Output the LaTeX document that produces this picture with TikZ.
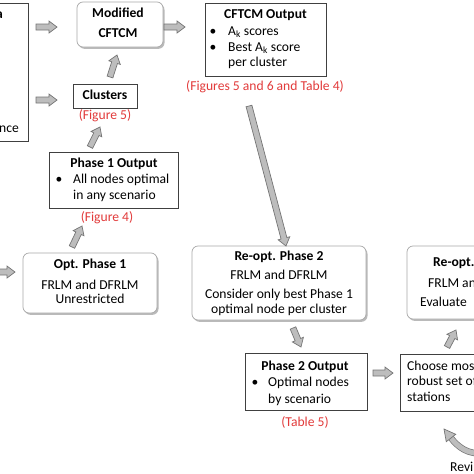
\documentclass[tikz,border=0pt]{standalone}
\usepackage{fontspec}
\setmainfont{Carlito}
\usetikzlibrary{calc,shadows}
\definecolor{redtxt}{HTML}{E23B3B}
\definecolor{arrfill}{HTML}{BDBDBD}
\definecolor{arrdraw}{HTML}{757575}
\definecolor{boxdraw}{HTML}{404040}
\definecolor{rboxdraw}{HTML}{A8A8A8}
\newcommand\blockarr[2]{%
  \coordinate (ba-h) at ($(#2)!8pt!(#1)$);
  \path[blockarrow] ($(#1)!3pt!90:(#2)$) -- ($(ba-h)!3pt!90:(#2)$) -- ($(ba-h)!6pt!90:(#2)$) -- (#2)
    -- ($(ba-h)!6pt!-90:(#2)$) -- ($(ba-h)!3pt!-90:(#2)$) -- ($(#1)!3pt!-90:(#2)$) -- cycle;}
\tikzset{
  blockarrow/.style={fill=arrfill, draw=arrdraw, line width=0.7pt, line join=miter},
  sbox/.style={draw=boxdraw, line width=0.9pt, fill=white, inner sep=0pt},
  rbox/.style={draw=rboxdraw, line width=0.7pt, fill=white, rounded corners=6pt, inner sep=0pt,
    drop shadow={shadow xshift=1.5pt, shadow yshift=-1.8pt, fill=black!45, opacity=0.6}},
  tl/.style={inner sep=0pt, text height=9.5pt, text depth=3pt, font=\fontsize{13.6}{16}\selectfont},
  tb/.style={tl, font=\fontsize{13.6}{16}\selectfont\bfseries},
  tr/.style={tl, text=redtxt},
}
\begin{document}
\begin{tikzpicture}[x=1pt,y=-1pt]
\useasboundingbox (0,0) rectangle (474,474);
\fill[white] (0,0) rectangle (474,474);
% boxes
\node[sbox, minimum width=50pt, minimum height=138pt, anchor=north east] (lb) at (29,3) {};
\node[rbox, minimum width=86pt, minimum height=45pt] (modc) at (120,24.5) {};
\node[sbox, minimum width=64pt, minimum height=24pt] (clus) at (105,96) {};
\node[sbox, minimum width=121pt, minimum height=73pt] (cout) at (265.5,39.5) {};
\node[sbox, minimum width=129pt, minimum height=56pt] (p1out) at (113.5,180) {};
\node[rbox, minimum width=134pt, minimum height=60pt] (opt1) at (90,283) {};
\node[rbox, minimum width=174pt, minimum height=74pt] (rp2) at (279,283) {};
\node[sbox, minimum width=122pt, minimum height=57pt] (p2out) at (306,381.5) {};
\node[sbox, minimum width=120pt, minimum height=57pt] (choose) at (460,382.5) {};
\node[rbox, minimum width=153pt, minimum height=73pt] (rp3) at (483.5,282.5) {};
% texts
\node[tb, anchor=east] (t-a) at (3,15) {a};
\node[tl, anchor=east] (t-nce) at (19,129) {nce};
\node[tb] (t-mod1) at (118,14) {Modified};
\node[tb] (t-mod2) at (118,34) {CFTCM};
\node[tb] (t-clus) at (105,96) {Clusters};
\node[tr] (t-f5) at (105,116) {(Figure 5)};
\node[tb] (t-co) at (265.5,15) {CFTCM Output};
\node[tl] (b-co1) at (213,32) {•};
\node[tl] (b-co2) at (213,48) {•};
\node[tl, anchor=west] (t-co1) at (228,32) {A\textsubscript{k} scores};
\node[tl, anchor=west] (t-co2) at (228,48) {Best A\textsubscript{k} score};
\node[tl, anchor=west] (t-co3) at (228,63) {per cluster};
\node[tr] (t-f56) at (265,87) {(Figures 5 and 6 and Table 4)};
\node[tb] (t-p1) at (114,164) {Phase 1 Output};
\node[tl] (b-p1) at (59,180) {•};
\node[tl, anchor=west] (t-p11) at (73,180) {All nodes optimal};
\node[tl, anchor=west] (t-p12) at (73,196) {in any scenario};
\node[tr] (t-f4) at (107,218) {(Figure 4)};
\node[tb] (t-o1) at (90,265) {Opt. Phase 1};
\node[tl] (t-o2) at (90,286) {FRLM and DFRLM};
\node[tl] (t-o3) at (90,300) {Unrestricted};
\node[tb] (t-r1) at (279,257) {Re-opt. Phase 2};
\node[tl] (t-r2) at (279,276) {FRLM and DFRLM};
\node[tl] (t-r3) at (279,295) {Consider only best Phase 1};
\node[tl] (t-r4) at (279,310) {optimal node per cluster};
\node[tb] (t-p2) at (305,367) {Phase 2 Output};
\node[tl] (b-p2) at (255,383) {•};
\node[tl, anchor=west] (t-p21) at (268,383) {Optimal nodes};
\node[tl, anchor=west] (t-p22) at (268,400) {by scenario};
\node[tr] (t-t5) at (305,423) {(Table 5)};
\node[tl, anchor=west] (t-c1) at (407,367) {Choose most};
\node[tl, anchor=west] (t-c2) at (407,382) {robust set of};
\node[tl, anchor=west] (t-c3) at (407,398) {stations};
\node[tb, anchor=west] (t-q1) at (433,263) {Re-opt.};
\node[tl, anchor=west] (t-q2) at (428,284) {FRLM and};
\node[tl, anchor=west] (t-q3) at (420,303) {Evaluate};
\node[tl, anchor=west] (t-rev) at (450,468) {Revi};
% block arrows
\coordinate (a1s) at (36,27);   \coordinate (a1e) at (57,27);
\coordinate (a2s) at (36,100);  \coordinate (a2e) at (57,100);
\coordinate (a3s) at (164,27);  \coordinate (a3e) at (185,27);
\coordinate (a4s) at (110,77);  \coordinate (a4e) at (117,55);
\coordinate (a5s) at (90,147);  \coordinate (a5e) at (100,127);
\coordinate (a6s) at (72,247);  \coordinate (a6e) at (82,226);
\coordinate (a7s) at (-10,272); \coordinate (a7e) at (15,272);
\coordinate (a8s) at (249,106); \coordinate (a8e) at (286,246);
\coordinate (a9s) at (293,328); \coordinate (a9e) at (301,347);
\coordinate (a10s) at (373,373); \coordinate (a10e) at (393,373);
\coordinate (a11s) at (447,347); \coordinate (a11e) at (456,330);
\blockarr{a1s}{a1e}
\blockarr{a2s}{a2e}
\blockarr{a3s}{a3e}
\blockarr{a4s}{a4e}
\blockarr{a5s}{a5e}
\blockarr{a6s}{a6e}
\blockarr{a7s}{a7e}
\blockarr{a8s}{a8e}
\blockarr{a9s}{a9e}
\blockarr{a10s}{a10e}
\blockarr{a11s}{a11e}
% curved arrow
\coordinate (ca1) at (484,453);
\coordinate (cah) at (451,438);
\coordinate (cat) at (444,429);
\draw[line width=6.4pt, arrdraw] (ca1) .. controls (468,455) and (458,447) .. (cah);
\draw[line width=5pt, arrfill] (ca1) .. controls (468,455) and (458,447) .. (cah);
\path[blockarrow] ($(cah)!6pt!90:(cat)$) -- (cat) -- ($(cah)!6pt!-90:(cat)$) -- cycle;
\end{tikzpicture}
\end{document}
